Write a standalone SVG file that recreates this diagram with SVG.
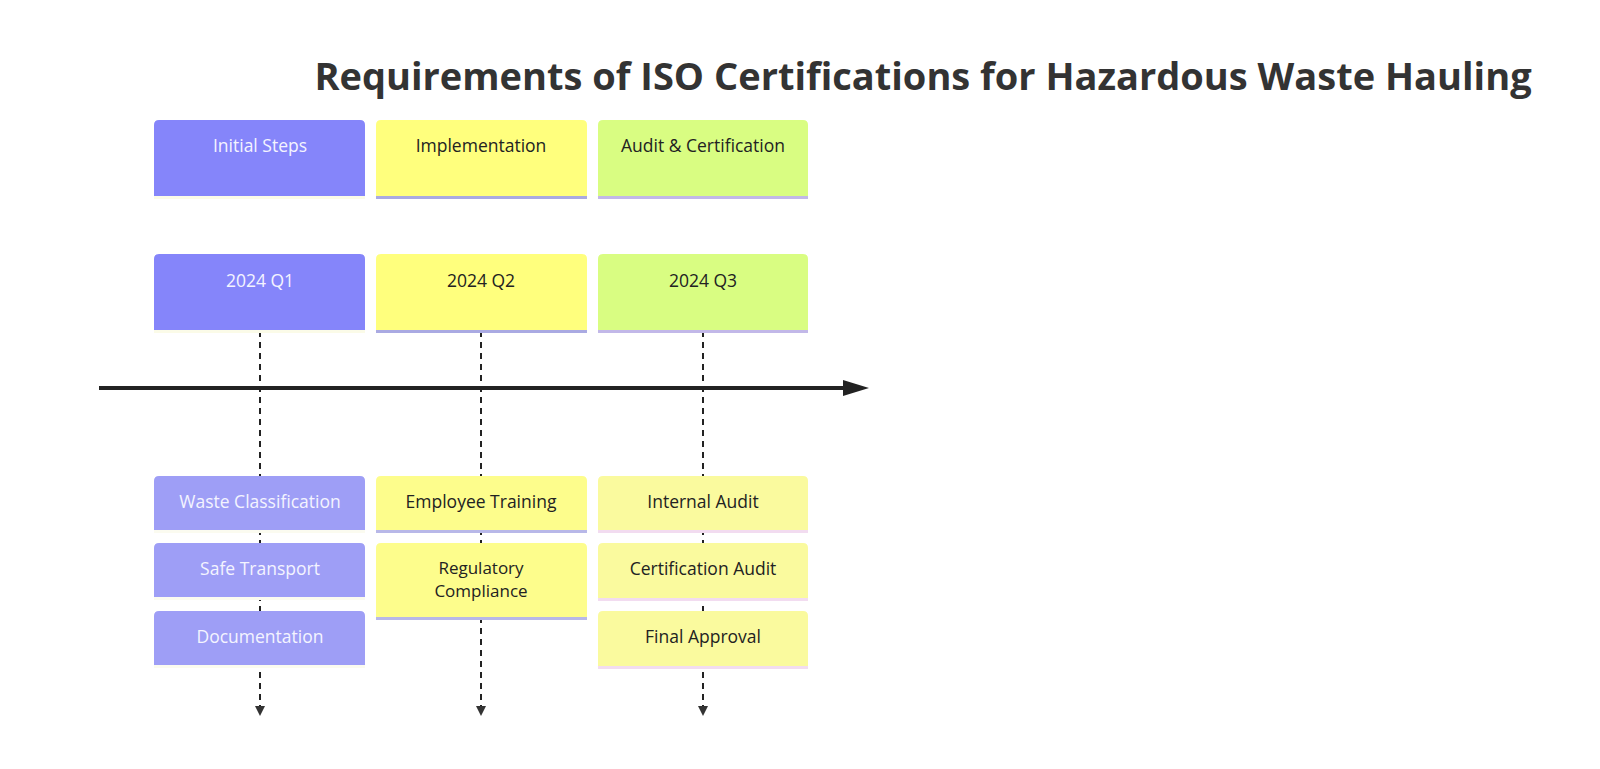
<svg xmlns="http://www.w3.org/2000/svg" width="1600" height="769" viewBox="0 0 1600 769">
<defs>
<marker id="arrowAxis" viewBox="0 0 26 16" refX="0" refY="8" markerWidth="26" markerHeight="16" markerUnits="userSpaceOnUse" orient="auto">
<path d="M0,0 L26,8 L0,16 Z" fill="#222"/>
</marker>
<marker id="arrowDown" viewBox="0 0 10 10" refX="0" refY="5" markerWidth="10" markerHeight="10" markerUnits="userSpaceOnUse" orient="auto">
<path d="M0,0 L10,5 L0,10 Z" fill="#333"/>
</marker>
<style>
text{font-family:"Open Sans","Noto Sans","DejaVu Sans",sans-serif;font-size:17.5px;text-anchor:middle}
.title{font-size:38px;font-weight:bold;fill:#333}
.light{fill:#f4f4ff}
.dark{fill:#222}
.two{font-size:17px}
.s0h{fill:#8585fa}
.s0t{fill:#9e9ef6}
.s1h{fill:#ffff7d}
.s1t{fill:#fdfd8c}
.s2h{fill:#d9fd82}
.s2t{fill:#fafa9e}
.edge{stroke-width:3;fill:none}
.vline{stroke:#222;stroke-width:2;stroke-dasharray:6 5;fill:none}
</style>
</defs>
<rect width="1600" height="769" fill="#ffffff"/>
<text class="title" x="923" y="90">Requirements of ISO Certifications for Hazardous Waste Hauling</text>

<g id="connectors">
<line class="vline" x1="260" y1="331" x2="260" y2="706" marker-end="url(#arrowDown)"/>
<line class="vline" x1="481" y1="331" x2="481" y2="706" marker-end="url(#arrowDown)"/>
<line class="vline" x1="703" y1="331" x2="703" y2="706" marker-end="url(#arrowDown)"/>
<line x1="99" y1="388" x2="843" y2="388" stroke="#222" stroke-width="4" marker-end="url(#arrowAxis)"/>
</g>

<g id="section-initial">
<path class="s0h" d="M154,196 V125 Q154,120 159,120 H360 Q365,120 365,125 V196 Z"/>
<line class="edge" x1="154" y1="197.5" x2="365" y2="197.5" stroke="#fbfbe8"/>
<text class="light" x="260" y="152">Initial Steps</text>
</g>
<g id="section-implementation">
<path class="s1h" d="M376,196 V125 Q376,120 381,120 H582 Q587,120 587,125 V196 Z"/>
<line class="edge" x1="376" y1="197.5" x2="587" y2="197.5" stroke="#aaaae2"/>
<text class="dark" x="481" y="152">Implementation</text>
</g>
<g id="section-audit">
<path class="s2h" d="M598,196 V125 Q598,120 603,120 H803 Q808,120 808,125 V196 Z"/>
<line class="edge" x1="598" y1="197.5" x2="808" y2="197.5" stroke="#c2b8e8"/>
<text class="dark" x="703" y="152">Audit &amp; Certification</text>
</g>

<g id="period-q1">
<path class="s0h" d="M154,330 V259 Q154,254 159,254 H360 Q365,254 365,259 V330 Z"/>
<line class="edge" x1="154" y1="331.5" x2="365" y2="331.5" stroke="#fbfbe8"/>
<text class="light" x="260" y="287">2024 Q1</text>
</g>
<g id="period-q2">
<path class="s1h" d="M376,330 V259 Q376,254 381,254 H582 Q587,254 587,259 V330 Z"/>
<line class="edge" x1="376" y1="331.5" x2="587" y2="331.5" stroke="#aaaae2"/>
<text class="dark" x="481" y="287">2024 Q2</text>
</g>
<g id="period-q3">
<path class="s2h" d="M598,330 V259 Q598,254 603,254 H803 Q808,254 808,259 V330 Z"/>
<line class="edge" x1="598" y1="331.5" x2="808" y2="331.5" stroke="#c2b8e8"/>
<text class="dark" x="703" y="287">2024 Q3</text>
</g>

<g id="task-waste-classification">
<path class="s0t" d="M154,530 V481 Q154,476 159,476 H360 Q365,476 365,481 V530 Z"/>
<line class="edge" x1="154" y1="531.5" x2="365" y2="531.5" stroke="#fbfbf0"/>
<text class="light" x="260" y="508">Waste Classification</text>
</g>
<g id="task-safe-transport">
<path class="s0t" d="M154,597 V548 Q154,543 159,543 H360 Q365,543 365,548 V597 Z"/>
<line class="edge" x1="154" y1="598.5" x2="365" y2="598.5" stroke="#fbfbf0"/>
<text class="light" x="260" y="575">Safe Transport</text>
</g>
<g id="task-documentation">
<path class="s0t" d="M154,665 V616 Q154,611 159,611 H360 Q365,611 365,616 V665 Z"/>
<line class="edge" x1="154" y1="666.5" x2="365" y2="666.5" stroke="#fbfbf0"/>
<text class="light" x="260" y="643">Documentation</text>
</g>

<g id="task-employee-training">
<path class="s1t" d="M376,530 V481 Q376,476 381,476 H582 Q587,476 587,481 V530 Z"/>
<line class="edge" x1="376" y1="531.5" x2="587" y2="531.5" stroke="#b8b8e8"/>
<text class="dark" x="481" y="508">Employee Training</text>
</g>
<g id="task-regulatory-compliance">
<path class="s1t" d="M376,617 V548 Q376,543 381,543 H582 Q587,543 587,548 V617 Z"/>
<line class="edge" x1="376" y1="618.5" x2="587" y2="618.5" stroke="#b8b8e8"/>
<text class="dark two" x="481" y="574">Regulatory</text>
<text class="dark two" x="481" y="597">Compliance</text>
</g>

<g id="task-internal-audit">
<path class="s2t" d="M598,530 V481 Q598,476 603,476 H803 Q808,476 808,481 V530 Z"/>
<line class="edge" x1="598" y1="531.5" x2="808" y2="531.5" stroke="#f2dcf0"/>
<text class="dark" x="703" y="508">Internal Audit</text>
</g>
<g id="task-certification-audit">
<path class="s2t" d="M598,598 V548 Q598,543 603,543 H803 Q808,543 808,548 V598 Z"/>
<line class="edge" x1="598" y1="599.5" x2="808" y2="599.5" stroke="#f2dcf0"/>
<text class="dark" x="703" y="575">Certification Audit</text>
</g>
<g id="task-final-approval">
<path class="s2t" d="M598,666 V616 Q598,611 603,611 H803 Q808,611 808,616 V666 Z"/>
<line class="edge" x1="598" y1="667.5" x2="808" y2="667.5" stroke="#f2dcf0"/>
<text class="dark" x="703" y="643">Final Approval</text>
</g>
</svg>
